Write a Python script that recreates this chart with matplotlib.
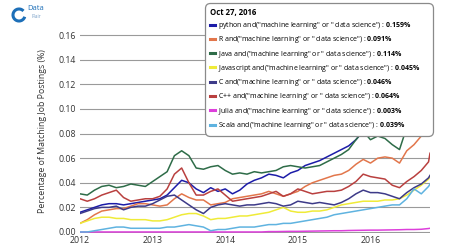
import matplotlib
matplotlib.use('Agg')
import matplotlib.pyplot as plt
from matplotlib.patches import Arc

# decimal-year dates of the samples (same for every series)
dates = [2012.0, 2012.1, 2012.2, 2012.3, 2012.4, 2012.5, 2012.6, 2012.7, 2012.8, 2012.9,
         2013.0, 2013.1, 2013.2, 2013.3, 2013.4, 2013.5, 2013.6, 2013.7, 2013.8, 2013.9,
         2014.0, 2014.1, 2014.2, 2014.3, 2014.4, 2014.5, 2014.6, 2014.7, 2014.8, 2014.9,
         2015.0, 2015.1, 2015.2, 2015.3, 2015.4, 2015.5, 2015.6, 2015.7, 2015.8, 2015.9,
         2016.0, 2016.1, 2016.2, 2016.3, 2016.4, 2016.5, 2016.6, 2016.7, 2016.8, 2016.82]

python = [0.016, 0.018, 0.020, 0.022, 0.023, 0.023, 0.022, 0.023, 0.024, 0.025,
          0.026, 0.027, 0.030, 0.036, 0.042, 0.040, 0.035, 0.032, 0.036, 0.033,
          0.035, 0.031, 0.034, 0.039, 0.042, 0.044, 0.047, 0.046, 0.044, 0.048,
          0.050, 0.054, 0.056, 0.058, 0.061, 0.064, 0.067, 0.070, 0.075, 0.082,
          0.080, 0.088, 0.095, 0.104, 0.112, 0.122, 0.132, 0.145, 0.155, 0.159]
r_lang = [0.007, 0.010, 0.014, 0.017, 0.018, 0.019, 0.019, 0.021, 0.023, 0.023,
          0.022, 0.021, 0.022, 0.027, 0.031, 0.028, 0.026, 0.026, 0.022, 0.023,
          0.024, 0.027, 0.028, 0.029, 0.030, 0.031, 0.033, 0.031, 0.029, 0.031,
          0.033, 0.037, 0.040, 0.042, 0.044, 0.046, 0.047, 0.050, 0.055, 0.059,
          0.056, 0.060, 0.061, 0.060, 0.056, 0.066, 0.071, 0.078, 0.088, 0.091]
java = [0.031, 0.030, 0.034, 0.037, 0.038, 0.036, 0.037, 0.039, 0.038, 0.037,
        0.041, 0.045, 0.049, 0.062, 0.066, 0.062, 0.052, 0.051, 0.053, 0.054,
        0.050, 0.047, 0.048, 0.047, 0.049, 0.048, 0.049, 0.050, 0.053, 0.054,
        0.053, 0.052, 0.053, 0.054, 0.057, 0.060, 0.063, 0.067, 0.075, 0.082,
        0.075, 0.078, 0.076, 0.071, 0.067, 0.085, 0.097, 0.106, 0.112, 0.114]
javascript = [0.007, 0.009, 0.011, 0.012, 0.012, 0.011, 0.011, 0.010, 0.010, 0.010,
              0.009, 0.009, 0.010, 0.012, 0.014, 0.015, 0.015, 0.013, 0.010, 0.011,
              0.011, 0.012, 0.013, 0.013, 0.014, 0.015, 0.016, 0.018, 0.020, 0.017,
              0.016, 0.016, 0.017, 0.017, 0.018, 0.020, 0.022, 0.023, 0.024, 0.025,
              0.025, 0.025, 0.026, 0.026, 0.027, 0.030, 0.034, 0.038, 0.043, 0.045]
c_lang = [0.015, 0.017, 0.019, 0.020, 0.020, 0.021, 0.018, 0.020, 0.021, 0.021,
          0.023, 0.026, 0.029, 0.030, 0.026, 0.022, 0.018, 0.015, 0.020, 0.022,
          0.023, 0.022, 0.021, 0.022, 0.022, 0.023, 0.024, 0.023, 0.021, 0.022,
          0.025, 0.024, 0.023, 0.024, 0.023, 0.022, 0.024, 0.027, 0.031, 0.034,
          0.032, 0.032, 0.031, 0.029, 0.027, 0.032, 0.036, 0.039, 0.044, 0.046]
cpp = [0.027, 0.025, 0.027, 0.030, 0.032, 0.034, 0.028, 0.025, 0.026, 0.027,
       0.027, 0.029, 0.035, 0.047, 0.052, 0.040, 0.030, 0.030, 0.033, 0.035,
       0.030, 0.025, 0.026, 0.027, 0.028, 0.029, 0.031, 0.033, 0.029, 0.031,
       0.035, 0.033, 0.031, 0.032, 0.033, 0.033, 0.034, 0.037, 0.041, 0.047,
       0.045, 0.044, 0.043, 0.038, 0.036, 0.041, 0.045, 0.050, 0.057, 0.064]
julia = [0.000, 0.000, 0.000, 0.000, 0.000, 0.000, 0.000, 0.000, 0.000, 0.000,
         0.000, 0.000, 0.000, 0.000, 0.000, 0.000, 0.000, 0.000, 0.000, 0.000,
         0.000, 0.000, 0.000, 0.000, 0.000, 0.000, 0.0003, 0.0003, 0.0004, 0.0005,
         0.0005, 0.0006, 0.0007, 0.0008, 0.0009, 0.001, 0.001, 0.0012, 0.0013, 0.0014,
         0.0015, 0.0015, 0.0016, 0.0017, 0.0018, 0.002, 0.002, 0.0022, 0.0028, 0.003]
scala = [0.000, 0.000, 0.001, 0.002, 0.003, 0.004, 0.004, 0.003, 0.003, 0.003,
         0.003, 0.003, 0.004, 0.004, 0.005, 0.006, 0.005, 0.004, 0.001, 0.002,
         0.002, 0.003, 0.004, 0.004, 0.004, 0.005, 0.006, 0.006, 0.007, 0.007,
         0.008, 0.009, 0.010, 0.011, 0.012, 0.014, 0.015, 0.016, 0.017, 0.018,
         0.019, 0.020, 0.021, 0.022, 0.022, 0.027, 0.035, 0.031, 0.037, 0.039]

names = ['python', 'R', 'Java', 'Javascript', 'C', 'C++', 'Julia', 'Scala']
latest = ['0.159%', '0.091%', '0.114%', '0.045%', '0.046%', '0.064%', '0.003%', '0.039%']
series = [python, r_lang, java, javascript, c_lang, cpp, julia, scala]
colors = ['#1c1ca8', '#e2764b', '#2e6c48', '#efeb38', '#3d3a88', '#b9403f', '#dd3fdb', '#5fb3e0']
yticks = [0.00, 0.02, 0.04, 0.06, 0.08, 0.10, 0.12, 0.14, 0.16]
xticks = [2012, 2013, 2014, 2015, 2016]

plt.rcParams['font.family'] = ['Open Sans', 'DejaVu Sans']
plt.rcParams['mathtext.fontset'] = 'custom'
plt.rcParams['mathtext.bf'] = 'Open Sans:bold'
plt.rcParams['mathtext.rm'] = 'Open Sans'

fig = plt.figure(figsize=(4.74, 2.48), dpi=100)
ax = fig.add_axes([80 / 474, (248 - 233.2) / 248, 350 / 474, 204.2 / 248])

for vals, col in zip(series, colors):
    ax.plot(dates, vals, color=col, lw=1.1, solid_joinstyle='round')

ax.set_xlim(2012, 2016.82)
ax.set_ylim(-0.001, 0.165)
ax.set_yticks(yticks)
ax.set_yticklabels([f'{v:.2f}' for v in yticks])
ax.set_xticks(xticks)
ax.set_xticklabels([str(x) for x in xticks])
ax.tick_params(length=0, labelsize=6.3, colors='#333333')
ax.tick_params(axis='y', pad=3)
ax.tick_params(axis='x', pad=2)
ax.grid(axis='y', color='#9a9a9a', lw=0.8)
ax.set_axisbelow(True)
for s in ax.spines.values():
    s.set_visible(False)
ax.set_ylabel('Percentage of Matching Job Postings (%)', fontsize=6.3,
              color='#333333', labelpad=8)

# legend with the latest value in bold, stretched over a fixed box
labels = [f'{n} and("machine learning" or " data science") : ' + r'$\mathbf{' + v.replace('%', r'\%') + '}$'
          for n, v in zip(names, latest)]
handles = [plt.Line2D([], [], color=c, lw=2.2) for c in colors]
leg = ax.legend(handles, labels, title='Oct 27, 2016', loc='upper left', mode='expand',
                bbox_to_anchor=(206 / 474, 1 - 120 / 248, 226 / 474, 116 / 248),
                bbox_transform=fig.transFigure,
                fontsize=5.0, title_fontproperties={'weight': 'bold', 'size': 5.6},
                handlelength=0.75, handletextpad=0.45, labelspacing=0.47,
                borderpad=0.55, borderaxespad=0, frameon=True, fancybox=True, framealpha=1,
                edgecolor='#8a8a8a', alignment='left')
leg.get_frame().set_linewidth(0.9)
leg.get_frame().set_boxstyle('round,pad=0.2,rounding_size=0.8')
leg.set_zorder(10)

# Data Flair logo, top left
fig.patches.append(Arc((19 / 474, 1 - 15 / 248), 12 / 474, 12 / 248, theta1=60, theta2=330,
                       lw=2.2, color='#1d6fb8', transform=fig.transFigure))
fig.text(27 / 474, 1 - 9 / 248, 'Data', fontsize=5.5, color='#1d6fb8', va='center')
fig.text(31 / 474, 1 - 16 / 248, 'Flair', fontsize=3.5, color='#7aa0c8', va='center')

fig.savefig('out.png', dpi=100)
